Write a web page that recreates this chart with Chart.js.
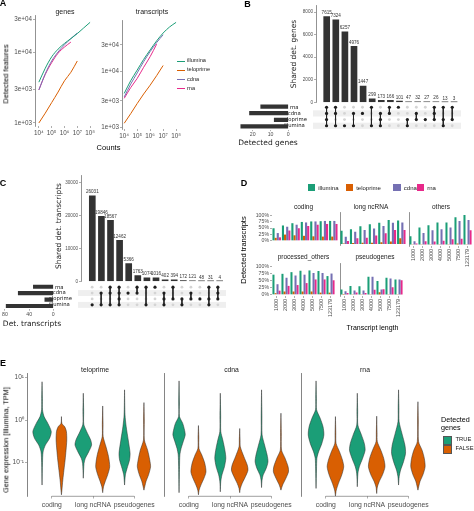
<!DOCTYPE html>
<html>
<head>
<meta charset="utf-8">
<script src="https://cdn.jsdelivr.net/npm/chart.js@4.4.0/dist/chart.umd.min.js"></script>
<style>
body { margin: 0; background: #fff; }
#fig { position: relative; width: 474px; height: 511px; overflow: hidden; font-family: "Liberation Sans", Arial, sans-serif; color: #1a1a1a; }
#fig canvas { position: absolute; }
.t { position: absolute; white-space: nowrap; line-height: 1; transform: translate(-50%, -50%); }
.t.l { transform: translate(0, -50%); }
.t.v { transform: translate(-50%, -50%) rotate(-90deg); }
.sw { position: absolute; }
</style>
</head>
<body>
<div id="fig"></div>
<script>
// ---- A: detected features vs counts ----
const protocols = ['illumina', 'teloprime', 'cdna', 'rna'];
const protocolColors = ['#1b9e77', '#d95f02', '#7570b3', '#e7298a'];
const counts = [1e4, 3.16e4, 1e5, 3.16e5, 1e6, 3.16e6, 1e7, 3.16e7, 1e8];
const countTicks = [1e4, 1e5, 1e6, 1e7, 1e8];
const featureTicks = [1e3, 3e3, 1e4, 3e4];
const genesIllumina = [3800, 6000, 8700, 11200, 13500, 15800, 18600, 22400, 26900];
const genesTeloprime = [1000, 1380, 1950, 2750, 3980, 5250, 7600, null, null];
const genesCdna = [2950, 5000, 7600, 10200, 12900, 15800, 19000, null, null];
const genesRna = [2950, 4900, 7200, 9800, 12000, 14100, null, null, null];
const txIllumina = [4100, 6900, 10700, 16600, 24500, 35500, 49000, 63000, 76000];
const txTeloprime = [1200, 1780, 2700, 4000, 5750, 8500, 12900, null, null];
const txCdna = [3550, 6000, 9500, 15100, 22900, 33100, 45700, null, null];
const txRna = [3350, 5200, 7600, 12000, 18600, 31000, null, null, null];

// ---- B / C: upset plots ----
const upsetSets = ['rna', 'cdna', 'teloprime', 'illumina'];
const geneInterSize = [7615, 7324, 6257, 4976, 1447, 299, 173, 166, 101, 47, 32, 27, 26, 13, 3];
const geneInterSets = [[0,1,2,3],[0,1,3],[3],[1,3],[1],[0,3],[1,2,3],[0,1],[0],[2,3],[1,2],[2],[0,1,2],[0,2,3],[0,2]];
const geneSetSize = [15.5, 21.8, 7.9, 26.7];
const geneTicks = [0, 2000, 4000, 6000, 8000];
const geneSetTicks = [0, 10, 20];
const txInterSize = [26031, 19846, 18567, 12462, 5366, 1763, 1074, 1016, 402, 394, 172, 121, 48, 31, 4];
const txInterSets = [[3],[1,3],[0,1,3],[0,1,2,3],[1],[0,1],[0,3],[0],[1,2,3],[0,2],[2,3],[1,2],[2],[0,2,3],[0,1,2]];
const txSetSize = [33, 58, 14, 78];
const txTicks = [0, 10000, 20000, 30000];
const txSetTicks = [0, 40, 80];

// ---- D: % detected transcripts by length (rows: illumina, teloprime, cdna, rna) ----
const lengthBins = ['1000', '2000', '3000', '4000', '5000', '7500', '123179'];
const pctTicks = [0, 25, 50, 75, 100];
const codingPct = [[49,60,69,74,76,77,78],[11,24,21,19,17,16,16],[30,55,63,72,76,78,78],[13,40,49,58,63,66,66]];
const lncPct = [[44,49,59,66,71,80,78],[2,3,4,4,6,8,19],[24,41,47,52,60,71,72],[10,19,21,28,36,47,47]];
const othersPct = [[27,56,63,72,72,89,97],[1,1,1,1,1,3,1],[11,38,47,50,56,77,80],[3,11,10,12,17,19,47]];
const processedPct = [[71,74,80,85,86,84,66],[5,11,11,11,11,7,7],[37,60,68,71,77,77,75],[14,31,34,41,54,54,51]];
const pseudoPct = [[17,29,28,60,46,57,51],[2,1,1,1,8,1,1],[11,14,14,60,17,54,51],[5,7,5,16,18,25,48]];

// ---- E: violins, [log10 TPM, relative half width] top to bottom ----
const violinCats = ['coding', 'long ncRNA', 'pseudogenes'];
const exprTicks = [-1, 0, 1];
const teloprimeTrue = [
  [[0.90,0],[0.5,0.04],[0.24,0.05],[0.08,0.22],[-0.08,0.63],[-0.27,1.0],[-0.43,0.82],[-0.59,0.36],[-0.75,0.11],[-1.0,0.05],[-1.53,0]],
  [[0.63,0],[0.2,0.04],[-0.1,0.05],[-0.27,0.36],[-0.47,0.8],[-0.59,0.9],[-0.75,0.58],[-0.9,0.22],[-1.02,0.08],[-1.37,0]],
  [[0.71,0],[0.12,0.05],[-0.16,0.18],[-0.47,0.4],[-0.78,0.6],[-0.94,0.54],[-1.14,0.27],[-1.29,0.09],[-1.53,0]]
];
const teloprimeFalse = [
  [[0.08,0],[-0.08,0.05],[-0.16,0.36],[-0.27,0.54],[-0.47,0.58],[-0.71,0.5],[-0.94,0.4],[-1.18,0.27],[-1.41,0.15],[-1.65,0.05],[-1.76,0]],
  [[0.33,0],[-0.1,0.04],[-0.39,0.05],[-0.63,0.36],[-0.86,0.63],[-1.1,0.76],[-1.29,0.54],[-1.45,0.27],[-1.57,0.09],[-1.71,0]],
  [[0.41,0],[0,0.04],[-0.47,0.05],[-0.71,0.4],[-0.94,0.63],[-1.1,0.72],[-1.29,0.5],[-1.45,0.22],[-1.65,0]]
];
const cdnaTrue = [
  [[0.92,0],[0.4,0.04],[0.08,0.05],[-0.08,0.4],[-0.24,0.6],[-0.35,0.67],[-0.51,0.45],[-0.67,0.22],[-0.82,0.09],[-1.1,0.05],[-1.71,0]],
  [[0.63,0],[0.1,0.04],[-0.27,0.05],[-0.47,0.27],[-0.71,0.5],[-0.9,0.6],[-1.1,0.45],[-1.29,0.18],[-1.45,0.05],[-1.69,0]],
  [[0.71,0],[0.1,0.04],[-0.35,0.06],[-0.59,0.33],[-0.82,0.6],[-0.98,0.7],[-1.14,0.5],[-1.29,0.18],[-1.42,0.05],[-1.59,0]]
];
const cdnaFalse = [
  [[-0.13,0],[-0.4,0.04],[-0.67,0.06],[-0.82,0.36],[-1.02,0.69],[-1.22,0.82],[-1.37,0.6],[-1.53,0.27],[-1.65,0.07],[-1.76,0]],
  [[-0.2,0],[-0.45,0.04],[-0.63,0.07],[-0.86,0.45],[-1.06,0.82],[-1.18,0.9],[-1.33,0.63],[-1.49,0.27],[-1.61,0.07],[-1.71,0]],
  [[0.16,0],[-0.3,0.04],[-0.71,0.07],[-0.9,0.45],[-1.1,0.78],[-1.22,0.82],[-1.37,0.54],[-1.53,0.18],[-1.65,0]]
];
const rnaTrue = [
  [[0.92,0],[0.5,0.04],[0.24,0.06],[0.04,0.45],[-0.16,0.76],[-0.35,0.85],[-0.55,0.63],[-0.75,0.27],[-0.9,0.09],[-1.15,0.05],[-1.61,0]],
  [[0.63,0],[0.2,0.04],[-0.12,0.06],[-0.35,0.45],[-0.55,0.76],[-0.71,0.85],[-0.9,0.58],[-1.1,0.22],[-1.25,0.07],[-1.57,0]],
  [[0.71,0],[0.3,0.04],[-0.04,0.06],[-0.31,0.36],[-0.59,0.69],[-0.78,0.76],[-0.98,0.54],[-1.18,0.22],[-1.33,0.07],[-1.53,0]]
];
const rnaFalse = [
  [[0.08,0],[-0.3,0.04],[-0.55,0.07],[-0.75,0.45],[-0.94,0.76],[-1.1,0.9],[-1.29,0.69],[-1.49,0.33],[-1.65,0.09],[-1.79,0]],
  [[0.09,0],[-0.3,0.04],[-0.51,0.07],[-0.71,0.45],[-0.9,0.76],[-1.1,0.9],[-1.29,0.63],[-1.45,0.27],[-1.58,0.07],[-1.73,0]],
  [[0.43,0],[0,0.04],[-0.51,0.07],[-0.71,0.45],[-0.9,0.69],[-1.1,0.78],[-1.29,0.54],[-1.45,0.22],[-1.65,0]]
];
const detColors = ['#1b9e77', '#d95f02'];

// ---------- helpers ----------
const fig = document.getElementById('fig');
const AX = '#777';
const SANS = '"Liberation Sans", Arial, sans-serif';
const DJV = '"DejaVu Sans", sans-serif';
Chart.defaults.font.family = SANS;
Chart.defaults.color = '#4d4d4d';
Chart.defaults.animation = false;
Chart.defaults.responsive = false;
Chart.defaults.devicePixelRatio = 1;
Chart.defaults.events = [];
Chart.defaults.plugins.legend.display = false;
Chart.defaults.plugins.tooltip.enabled = false;

function mk(left, top, w, h, cfg) {
  const c = document.createElement('canvas');
  c.width = w; c.height = h;
  c.style.left = left + 'px'; c.style.top = top + 'px';
  c.style.width = w + 'px'; c.style.height = h + 'px';
  fig.appendChild(c);
  return new Chart(c, cfg);
}
function txt(s, x, y, o = {}) {
  const d = document.createElement('div');
  d.className = 't' + (o.cls ? ' ' + o.cls : '');
  d.textContent = s;
  d.style.left = x + 'px'; d.style.top = y + 'px';
  d.style.fontSize = (o.size || 7) + 'px';
  if (o.bold) d.style.fontWeight = 'bold';
  if (o.font) d.style.fontFamily = o.font;
  if (o.color) d.style.color = o.color;
  fig.appendChild(d);
}
function sw(x, y, w, h, color, border) {
  const d = document.createElement('div');
  d.className = 'sw';
  Object.assign(d.style, { left: x + 'px', top: y + 'px', width: w + 'px', height: h + 'px', background: color, boxSizing: 'border-box' });
  if (border) d.style.border = border;
  fig.appendChild(d);
}
const fixW = w => s => { s.width = w; };
const fixH = h => s => { s.height = h; };
const setTicks = vals => s => { s.ticks = vals.map(v => ({ value: v })); };
const tickGrid = len => ({ drawOnChartArea: false, tickLength: len, color: AX, lineWidth: 0.6, offset: false });
const SUP = { '0': '⁰', '1': '¹', '2': '²', '3': '³', '4': '⁴', '5': '⁵', '6': '⁶', '7': '⁷', '8': '⁸', '9': '⁹', '-': '⁻' };
const pow10 = n => '10' + String(n).split('').map(ch => SUP[ch]).join('');
const sci = v => { const e = Math.floor(Math.log10(v) + 1e-9); return Math.round(v / Math.pow(10, e)) + 'e+' + String(e).padStart(2, '0'); };

const barLabels = {
  id: 'barLabels',
  afterDatasetsDraw(chart) {
    const { ctx } = chart;
    const ds = chart.data.datasets[0];
    ctx.save();
    ctx.font = '4.6px ' + SANS;
    ctx.fillStyle = '#333';
    ctx.textAlign = 'center';
    ctx.textBaseline = 'bottom';
    chart.getDatasetMeta(0).data.forEach((el, i) => ctx.fillText(String(ds.data[i].y), el.x, el.y - 1.5));
    ctx.restore();
  }
};
const stripes = {
  id: 'stripes',
  beforeDatasetsDraw(chart) {
    const { ctx, chartArea: a, scales: { y } } = chart;
    const h = Math.abs(y.getPixelForValue(1) - y.getPixelForValue(0));
    ctx.save();
    ctx.fillStyle = '#efefef';
    [1, 3].forEach(r => { const py = y.getPixelForValue(r); ctx.fillRect(a.left - 3, py - h / 2, a.right - a.left + 1, h); });
    ctx.restore();
  }
};
const capX = {
  id: 'capX',
  afterDraw(chart) {
    const { ctx, chartArea: a, scales: { x } } = chart;
    const t = x.ticks;
    ctx.save();
    ctx.strokeStyle = AX; ctx.lineWidth = 0.7;
    ctx.beginPath();
    ctx.moveTo(x.getPixelForValue(t[0].value), a.bottom + 0.3);
    ctx.lineTo(x.getPixelForValue(t[t.length - 1].value), a.bottom + 0.3);
    ctx.stroke();
    ctx.restore();
  }
};

// ---------- A ----------
function curveChart(left, w, h, series, o) {
  return mk(left, 0, w, h, {
    type: 'line',
    data: { datasets: series.map((s, i) => ({
      data: counts.map((c, j) => ({ x: c, y: s[j] })),
      borderColor: protocolColors[i], borderWidth: 1, pointRadius: 0, cubicInterpolationMode: 'monotone'
    })) },
    options: {
      layout: { padding: { top: o.top, right: 2, bottom: 0, left: 0 } },
      scales: {
        x: { type: 'logarithmic', min: o.xmin, max: o.xmax, afterBuildTicks: setTicks(countTicks), afterFit: fixH(o.xh),
             ticks: { autoSkip: false, maxRotation: 0, padding: 1, font: { size: 6.3 }, callback: v => pow10(Math.round(Math.log10(v))) },
             grid: tickGrid(2), border: { display: false } },
        y: { type: 'logarithmic', min: o.ymin, max: o.ymax, afterBuildTicks: setTicks(featureTicks), afterFit: fixW(o.yw),
             ticks: { autoSkip: false, padding: 1, font: { size: 6.3 }, callback: v => sci(v) },
             grid: tickGrid(2), border: { color: AX, width: 0.8 } }
      }
    }
  });
}
curveChart(0, 96, 145, [genesIllumina, genesTeloprime, genesCdna, genesRna],
  { top: 15, xh: 19, yw: 35, xmin: 4990, xmax: 1.41e8, ymin: 906, ymax: 34200 });
curveChart(90, 92, 145, [txIllumina, txTeloprime, txCdna, txRna],
  { top: 20, xh: 16, yw: 32, xmin: 6740, xmax: 1.48e8, ymin: 948, ymax: 83800 });

txt('A', 3, 3, { size: 9, bold: true, color: '#000' });
txt('genes', 65, 10.5, { size: 7 });
txt('transcripts', 152, 10.5, { size: 7 });
txt('Detected features', 6, 74, { size: 7.5, cls: 'v', color: '#000' });
txt('Counts', 108.5, 148, { size: 7.5, color: '#000' });
protocols.forEach((p, i) => {
  const y = 61 + i * 9.3;
  sw(176.5, y - 0.5, 8, 1, protocolColors[i]);
  txt(p, 187, y, { size: 5.6, cls: 'l' });
});

// ---------- B / C upset ----------
function upsetBars(left, top, w, h, sizes, ticks, o) {
  return mk(left, top, w, h, {
    type: 'bar',
    data: { datasets: [{ data: sizes.map((v, i) => ({ x: i + 1, y: v })), backgroundColor: '#333', barThickness: 6 }] },
    options: {
      layout: { padding: { top: o.padTop, right: 2, bottom: o.padBottom, left: 0 } },
      scales: {
        x: { type: 'linear', display: false, offset: false, bounds: 'data', min: o.xmin, max: o.xmax, grid: { offset: false } },
        y: { min: 0, max: o.ymax, afterBuildTicks: setTicks(ticks), afterFit: fixW(36),
             ticks: { autoSkip: false, padding: 1, font: { size: 4.6 }, callback: v => String(v) }, grid: tickGrid(2), border: { color: AX, width: 0.8 } }
      }
    },
    plugins: [barLabels]
  });
}
function upsetMatrix(left, top, w, h, inter, o) {
  const off = [], on = [], links = [];
  inter.forEach((s, c) => {
    upsetSets.forEach((_, r) => (s.includes(r) ? on : off).push({ x: c + 1, y: r }));
    if (s.length > 1) links.push({ x: c + 1, y: Math.min(...s) }, { x: c + 1, y: Math.max(...s) }, { x: c + 1, y: null });
  });
  return mk(left, top, w, h, {
    type: 'scatter',
    data: { datasets: [
      { data: links, showLine: true, borderColor: '#222', borderWidth: 0.9, pointRadius: 0, order: 2 },
      { data: off, backgroundColor: '#d4d4d4', pointRadius: 1.4, borderWidth: 0, order: 3 },
      { data: on, backgroundColor: '#1e1e1e', pointRadius: 1.6, borderWidth: 0, order: 1 }
    ] },
    options: {
      layout: { padding: { top: o.padTop, right: 2, bottom: o.padBottom, left: 0 } },
      scales: {
        x: { type: 'linear', display: false, offset: false, bounds: 'data', min: o.xmin, max: o.xmax },
        y: { type: 'linear', reverse: true, min: -0.5, max: 3.5, afterBuildTicks: setTicks([0, 1, 2, 3]), afterFit: fixW(32),
             ticks: { autoSkip: false, crossAlign: 'center', padding: 1, color: '#111', font: { size: 5.3, family: DJV }, callback: v => upsetSets[v] },
             grid: { display: false }, border: { display: false } }
      }
    },
    plugins: [stripes]
  });
}
function setSizeBars(left, top, w, h, sizes, ticks, o) {
  return mk(left, top, w, h, {
    type: 'bar',
    data: { labels: upsetSets, datasets: [{ data: sizes, backgroundColor: '#333', barThickness: 3.5 }] },
    options: {
      indexAxis: 'y',
      layout: { padding: { top: o.padTop, right: o.padRight, bottom: 0, left: o.padLeft } },
      scales: {
        y: { display: false },
        x: { reverse: true, min: 0, max: o.xmax, afterBuildTicks: setTicks(ticks), afterFit: fixH(o.xh),
             ticks: { autoSkip: false, padding: 0.5, maxRotation: 0, font: { size: 5.2 } }, grid: tickGrid(1.5), border: { display: false } }
      }
    }
  });
}

// B: genes
upsetBars(280, 0, 187, 106, geneInterSize, geneTicks, { padTop: 5, padBottom: 2.7, xmin: -0.176, xmax: 16.2, ymax: 8642 });
upsetMatrix(284, 100, 183, 33, geneInterSets, { padTop: 3.3, padBottom: 3.3, xmin: -0.176, xmax: 16.2 });
setSizeBars(230, 100, 60, 40, geneSetSize, geneSetTicks, { padTop: 3.3, padLeft: 6, padRight: 1.7, xmax: 29.4, xh: 10.3 });
txt('B', 247.5, 4, { size: 9, bold: true, color: '#000' });
txt('Shared det. genes', 293.5, 54, { size: 7.5, cls: 'v', font: DJV });
txt('Detected genes', 268, 142.5, { size: 7.5, font: DJV });

// C: transcripts
upsetBars(45, 172, 187, 113, txInterSize, txTicks, { padTop: 3, padBottom: 2.7, xmin: -0.242, xmax: 16.13, ymax: 32190 });
upsetMatrix(49, 280, 183, 32, txInterSets, { padTop: 3.5, padBottom: 2.8, xmin: -0.242, xmax: 16.13 });
setSizeBars(0, 280, 56, 40, txSetSize, txSetTicks, { padTop: 3.5, padLeft: 2, padRight: 2.7, xmax: 84.9, xh: 10.8 });
txt('C', 3, 183, { size: 9, bold: true, color: '#000' });
txt('Shared det. transcripts', 58.5, 226, { size: 7.5, cls: 'v', font: DJV });
txt('Det. transcripts', 32, 324, { size: 7.5, font: DJV });

// ---------- D ----------
function facetD(left, top, w, h, rows, o) {
  const x = { display: o.xAxis, offset: true,
              ticks: { autoSkip: false, minRotation: 90, maxRotation: 90, padding: 1, font: { size: 5.4 } },
              grid: tickGrid(2), border: { display: false } };
  if (o.xAxis) x.afterFit = fixH(26);
  return mk(left, top, w, h, {
    type: 'bar',
    data: { labels: lengthBins, datasets: rows.map((vals, i) => ({ data: vals, backgroundColor: protocolColors[i], categoryPercentage: 0.9, barPercentage: 1.0 })) },
    options: {
      layout: { padding: { top: 2.5, right: 0, bottom: o.xAxis ? 0 : 0.5, left: 0 } },
      scales: {
        x,
        y: { min: -5, max: 105, afterBuildTicks: setTicks(pctTicks), afterFit: fixW(o.yw),
             ticks: { display: o.yLabels, autoSkip: false, padding: 1, font: { size: 5.2 }, callback: v => v + '%' },
             grid: { display: o.yLabels, drawOnChartArea: false, tickLength: 2, color: AX, lineWidth: 0.6 },
             border: { display: !o.yLabels, color: AX, width: 0.8 } }
      }
    }
  });
}
facetD(252, 210, 86, 36, codingPct, { xAxis: false, yLabels: true, yw: 20 });
facetD(339, 210, 67, 36, lncPct, { xAxis: false, yLabels: false, yw: 1 });
facetD(408, 210, 67, 62, othersPct, { xAxis: true, yLabels: false, yw: 1 });
facetD(252, 261, 86, 61, processedPct, { xAxis: true, yLabels: true, yw: 20 });
facetD(339, 261, 67, 61, pseudoPct, { xAxis: true, yLabels: false, yw: 1 });

txt('D', 244, 183, { size: 9, bold: true, color: '#000' });
const dLegendX = [307.7, 345.7, 393.3, 416.7];
protocols.forEach((p, i) => {
  sw(dLegendX[i], 184, 7.3, 7, protocolColors[i]);
  txt(p, dLegendX[i] + 10.5, 187.5, { size: 6, cls: 'l' });
});
txt('coding', 303.5, 206.7, { size: 6.5 });
txt('long ncRNA', 371, 206.7, { size: 6.5 });
txt('others', 441, 206.7, { size: 6.5 });
txt('processed_others', 303.5, 257.3, { size: 6.5 });
txt('pseudogenes', 375, 257.3, { size: 6.5 });
txt('Detected transcripts', 244, 250, { size: 7.6, cls: 'v', color: '#000' });
txt('Transcript length', 372.5, 327, { size: 7, color: '#000' });

// ---------- E ----------
const dodge = 0.235;
const halfMax = 0.223;
function facetE(plotLeft, profTrue, profFalse, showY) {
  const ds = [];
  [profTrue, profFalse].forEach((profs, k) => profs.forEach((p, c) => {
    const cx = c + 1 + (k ? dodge : -dodge);
    const pts = p.map(([v, w]) => ({ x: cx + w * halfMax, y: v }))
      .concat(p.slice().reverse().map(([v, w]) => ({ x: cx - w * halfMax, y: v })));
    ds.push({ data: pts, showLine: true, fill: 'shape', tension: 0.25, pointRadius: 0, borderWidth: 0.5,
              borderColor: '#2b2b2b', backgroundColor: detColors[k], clip: false });
  }));
  const yw = showY ? 27 : 4;
  return mk(plotLeft - yw, 366, yw + 135, 145, {
    type: 'scatter',
    data: { datasets: ds },
    options: {
      layout: { padding: { top: 7, right: 3, bottom: 0, left: 0 } },
      scales: {
        x: { type: 'linear', min: 0.4, max: 3.6, afterBuildTicks: setTicks([1, 2, 3]), afterFit: fixH(15),
             ticks: { autoSkip: false, maxRotation: 0, padding: 3, font: { size: 6.8 }, callback: v => violinCats[Math.round(v) - 1] },
             grid: tickGrid(2.5), border: { display: false } },
        y: { type: 'linear', min: -1.788, max: 1.106, afterBuildTicks: setTicks(exprTicks), afterFit: fixW(yw),
             ticks: { display: showY, autoSkip: false, padding: 1, font: { size: 6.5 }, callback: v => pow10(v) },
             grid: { display: showY, drawOnChartArea: false, tickLength: 2, color: AX, lineWidth: 0.6 },
             border: { color: AX, width: 0.9 } }
      }
    },
    plugins: [capX]
  });
}
facetE(27, teloprimeTrue, teloprimeFalse, true);
facetE(164, cdnaTrue, cdnaFalse, false);
facetE(301, rnaTrue, rnaFalse, false);

txt('E', 3, 362.5, { size: 9, bold: true, color: '#000' });
txt('teloprime', 95, 369.5, { size: 6.8 });
txt('cdna', 231.5, 369.5, { size: 6.8 });
txt('rna', 365, 369.5, { size: 6.8 });
txt('Gene expression [Illumina, TPM]', 5.5, 440, { size: 7.3, cls: 'v', color: '#000' });
txt('Detected', 441, 420, { size: 7.2, cls: 'l', color: '#000' });
txt('genes', 441, 428, { size: 7.2, cls: 'l', color: '#000' });
['TRUE', 'FALSE'].forEach((lab, k) => {
  sw(443.3, 435.5 + k * 9, 9, 9, detColors[k], '0.5px solid #555');
  txt(lab, 455.5, 440 + k * 9, { size: 5.8, cls: 'l' });
});
</script>
</body>
</html>
